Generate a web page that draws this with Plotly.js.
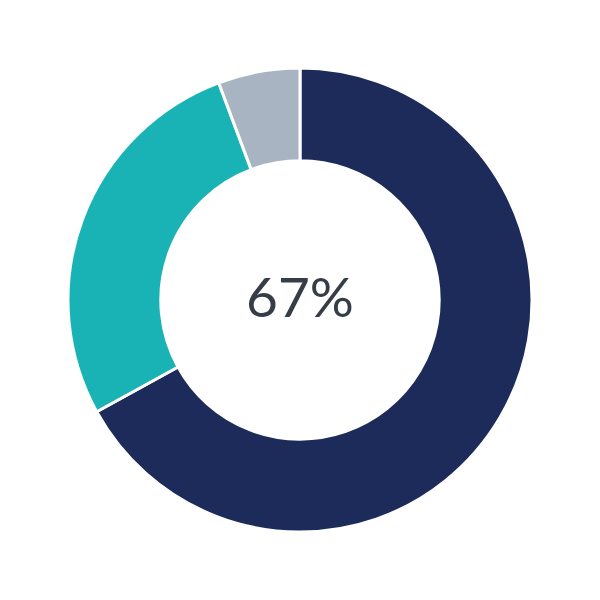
<!DOCTYPE html>
<html>
<head>
<meta charset="utf-8">
<script src="https://cdn.plot.ly/plotly-3.0.1.min.js"></script>
<style>html,body{margin:0;padding:0;background:#fff;}#chart{width:600px;height:600px;}</style>
</head>
<body>
<div id="chart"></div>
<script>
const labels = ["Navy", "Teal", "Gray"];
const values = [67, 27.3, 5.7];
const colors = ["#1c2b5a", "#1ab3b5", "#a9b4c3"];
const centerLabel = "67%";

Plotly.newPlot("chart", [{
  type: "pie",
  labels: labels,
  values: values,
  hole: 0.6,
  sort: false,
  direction: "clockwise",
  rotation: 0,
  textinfo: "none",
  hoverinfo: "label+percent",
  marker: {colors: colors, line: {color: "#ffffff", width: 3}}
}], {
  width: 600, height: 600,
  margin: {l: 68, r: 68, t: 68, b: 68},
  showlegend: false,
  paper_bgcolor: "#ffffff",
  annotations: [{
    text: centerLabel, x: 0.5, y: 0.5, xref: "paper", yref: "paper", yshift: 4,
    showarrow: false, font: {family: "Lato", size: 55, color: "#363d47"}
  }]
}, {displayModeBar: false, staticPlot: true});
</script>
</body>
</html>
